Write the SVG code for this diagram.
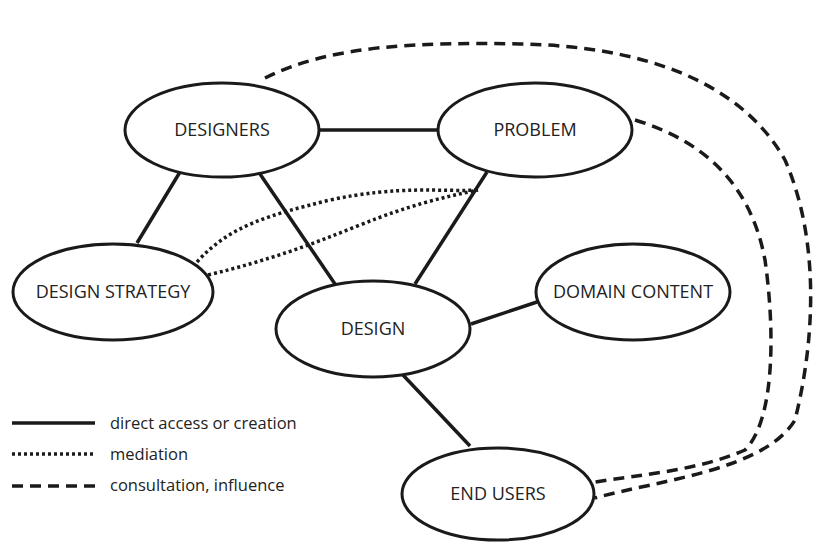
<svg xmlns="http://www.w3.org/2000/svg" width="820" height="555" viewBox="0 0 820 555">
<style>
.n{fill:#fff;stroke:#1a1a1a;stroke-width:3}
.t{font-family:"Open Sans","Liberation Sans",sans-serif;font-size:18px;fill:#222;text-anchor:middle}
.l{font-family:"Open Sans","Liberation Sans",sans-serif;font-size:16.5px;fill:#222}
.s{stroke:#1a1a1a;stroke-width:3.5;fill:none}
.d{stroke:#1a1a1a;stroke-width:3.5;fill:none;stroke-dasharray:3 3}
.h{stroke:#1a1a1a;stroke-width:3.5;fill:none;stroke-dasharray:11 7}
</style>
<rect width="820" height="555" fill="#fff"/>
<g id="connectors">
<line class="s" x1="318" y1="130" x2="440" y2="130"/>
<line class="s" x1="180" y1="172" x2="137" y2="243"/>
<line class="s" x1="260" y1="174" x2="335" y2="284"/>
<line class="s" x1="487" y1="172" x2="415" y2="284"/>
<line class="s" x1="471" y1="324" x2="537" y2="302"/>
<line class="s" x1="403" y1="375" x2="470" y2="446"/>
<path class="d" d="M197,262 C230,225 270,215 330,200 C400,185 440,192 478,190"/>
<path class="d" d="M208,275 C270,260 310,245 360,225 C410,205 440,198 478,190"/>
<path class="h" d="M265,78 C330,45 420,42 520,44 C640,46 740,80 785,160 C820,240 815,340 795,420 C765,470 660,480 595,498"/>
<path class="h" d="M635,120 C700,140 750,180 765,260 C775,330 775,420 745,450 C700,470 640,475 595,482"/>
</g>
<g id="designers"><ellipse class="n" cx="222" cy="130" rx="97" ry="47"/><text class="t" x="222" y="136">DESIGNERS</text></g>
<g id="problem"><ellipse class="n" cx="535" cy="130" rx="97" ry="47"/><text class="t" x="535" y="136">PROBLEM</text></g>
<g id="strategy"><ellipse class="n" cx="113" cy="292" rx="100" ry="48"/><text class="t" x="113" y="298">DESIGN STRATEGY</text></g>
<g id="design"><ellipse class="n" cx="373" cy="329" rx="97" ry="48"/><text class="t" x="373" y="335">DESIGN</text></g>
<g id="domain"><ellipse class="n" cx="633" cy="292" rx="97" ry="48"/><text class="t" x="633" y="298">DOMAIN CONTENT</text></g>
<g id="endusers"><ellipse class="n" cx="498" cy="494" rx="96" ry="46"/><text class="t" x="498" y="500">END USERS</text></g>
<g id="legend">
<line class="s" x1="12" y1="423" x2="95" y2="423"/>
<line class="d" x1="12" y1="454" x2="95" y2="454"/>
<line class="h" x1="12" y1="486" x2="95" y2="486"/>
<text class="l" x="110" y="429">direct access or creation</text>
<text class="l" x="110" y="460">mediation</text>
<text class="l" x="110" y="491">consultation, influence</text>
</g>
</svg>
